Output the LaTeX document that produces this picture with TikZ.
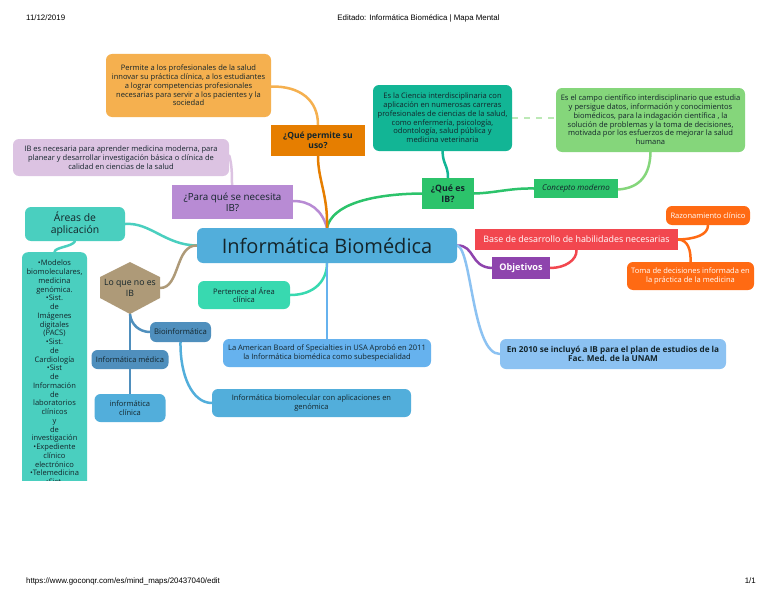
\documentclass[tikz,border=0pt]{standalone}
\usepackage{fontspec}
\setmainfont{Open Sans}
\newfontfamily\headfont{Liberation Sans}
\usetikzlibrary{backgrounds}
\definecolor{ink}{HTML}{14252B}
\definecolor{cMain}{HTML}{52AEDB}
\definecolor{cPermL}{HTML}{F5B04F}
\definecolor{cPerm}{HTML}{E67E00}
\definecolor{cLilaL}{HTML}{DCC3E2}
\definecolor{cLila}{HTML}{B88BD4}
\definecolor{cTeal}{HTML}{4ACFBF}
\definecolor{cHex}{HTML}{AE9A78}
\definecolor{cMint}{HTML}{38D9B0}
\definecolor{cSteel}{HTML}{4F8FBD}
\definecolor{cBlue}{HTML}{66B2EE}
\definecolor{cSea}{HTML}{12B595}
\definecolor{cGreen}{HTML}{2CC36B}
\definecolor{cLeaf}{HTML}{85D67B}
\definecolor{cRed}{HTML}{F2474F}
\definecolor{cPurple}{HTML}{8E44AD}
\definecolor{cOrange}{HTML}{FF6A13}
\definecolor{cSky}{HTML}{8CC2F2}
\tikzset{
  x=1pt,y=-1pt,
  base/.style={inner sep=0pt,align=center,text=ink,font=\fontsize{7.55}{8.75}\selectfont},
  card/.style={base,rounded corners=6pt},
  flat/.style={base},
  link/.style={line width=2.5pt,line cap=round},
  head/.style={inner sep=0pt,text=black,font=\headfont\fontsize{7.9}{9}\selectfont},
}
\newcommand{\boxat}[8]{%
  \node[#1,fill=#2,minimum width=#5pt,minimum height=#6pt,#7] (#8) at (#3,#4)}
\begin{document}
\begin{tikzpicture}
\useasboundingbox (0,0) rectangle (768,594);
% headers
\node[head,anchor=west] (hdate) at (26,18) {11/12/2019};
\node[head,anchor=center] (htitle) at (418.5,18) {Editado: Informática Biomédica | Mapa Mental};
\node[head,anchor=west] (furl) at (26,581) {https://www.goconqr.com/es/mind\_maps/20437040/edit};
\node[head,anchor=east] (fpage) at (756,581) {1/1};
% hexagon shape
\fill[cHex] (130,262) -- (160,277) -- (160,298) -- (130,314) -- (100,298) -- (100,277) -- cycle;
% nodes
\boxat{card}{cMain}{327}{245.5}{260}{35}{font=\fontsize{20}{24}\selectfont}{main} {Informática Biomédica};
\boxat{card}{cPermL}{188.5}{85.5}{165}{63}{}{perm} {Permite a los profesionales de la salud\\innovar su práctica clínica, a los estudiantes\\a lograr competencias profesionales\\necesarias para servir a los pacientes y la\\sociedad};
\boxat{flat}{cPerm}{318}{140.5}{94}{31}{font=\fontsize{8.5}{10.4}\selectfont\bfseries}{uso} {¿Qué permite su\\uso?};
\boxat{card}{cLilaL}{121}{157.5}{216}{37}{}{neceT} {IB es necesaria para aprender medicina moderna, para\\planear y desarrollar investigación básica o clínica de\\calidad en ciencias de la salud};
\boxat{flat}{cLila}{232.5}{202}{121}{34}{font=\fontsize{9.8}{11}\selectfont}{para} {¿Para qué se necesita\\IB?};
\boxat{card}{cTeal}{75}{224}{100}{34}{font=\fontsize{10.4}{12.4}\selectfont}{areas} {Áreas de\\aplicación};
\boxat{base}{cHex}{130}{288}{60}{30}{fill opacity=0,text opacity=1,font=\fontsize{8.7}{10.5}\selectfont}{hex} {Lo que no es\\IB};
\boxat{card}{cMint}{244}{295}{92}{28}{}{pert} {Pertenece al Área\\clínica};
\boxat{card}{cSteel}{180.5}{332}{61}{20}{font=\fontsize{7.7}{8.75}\selectfont}{bio} {Bioinformática};
\boxat{card}{cSteel}{130}{359.5}{77}{19}{}{imed} {Informática médica};
\boxat{card}{cMain}{130}{408}{71}{28}{}{icli} {informática\\clínica};
\boxat{card}{cBlue}{327}{353}{208}{28}{}{amer} {La American Board of Specialties in USA Aprobó en 2011\\la Informática biomédica como subespecialidad};
\boxat{card}{cMain}{311.5}{403}{199}{28}{}{bmol} {Informática biomolecular con aplicaciones en\\genómica};
\boxat{card}{cSea}{442.5}{118}{139}{66}{}{cien} {Es la Ciencia interdisciplinaria con\\aplicación en numerosas carreras\\profesionales de ciencias de la salud,\\como enfermería, psicología,\\odontología, salud pública y\\medicina veterinaria};
\boxat{flat}{cGreen}{448}{193.5}{52}{31}{font=\fontsize{8.8}{10.4}\selectfont\bfseries}{ques} {¿Qué es\\IB?};
\boxat{flat}{cGreen}{576}{188.5}{84}{19}{font=\fontsize{8}{8.75}\selectfont\itshape}{conc} {Concepto moderno};
\boxat{card}{cLeaf}{650.5}{120}{189}{64}{}{campo} {Es el campo científico interdisciplinario que estudia\\y persigue datos, información y conocimientos\\biomédicos, para la indagación científica , la\\solución de problemas y la toma de decisiones,\\motivada por los esfuerzos de mejorar la salud\\humana};
\boxat{flat}{cRed}{576.5}{239.5}{203}{21}{text=white,font=\fontsize{8.9}{10}\selectfont}{bas} {Base de desarrollo de habilidades necesarias};
\boxat{flat}{cPurple}{521}{268}{58}{22}{text=white,font=\fontsize{9.1}{10}\selectfont\bfseries}{obj} {Objetivos};
\boxat{card}{cOrange}{708}{215.5}{84}{19}{text=white}{raz} {Razonamiento clínico};
\boxat{card}{cOrange}{690.5}{276}{127}{28}{text=white}{toma} {Toma de decisiones informada en\\la práctica de la medicina};
\boxat{card}{cSky}{613}{354}{226}{30}{font=\fontsize{8.2}{9.4}\selectfont\bfseries}{unam} {En 2010 se incluyó a IB para el plan de estudios de la\\Fac. Med. de la UNAM};
% tall clipped card
\begin{scope}
\clip (0,252) rectangle (768,480);
\node[card,fill=cTeal,minimum width=65pt,minimum height=249pt,anchor=north] (tall) at (54.5,252) {•Modelos\\biomoleculares,\\medicina\\genómica.\\•Sist.\\de\\Imágenes\\digitales\\(PACS)\\•Sist.\\de\\Cardiología\\•Sist\\de\\Información\\de\\laboratorios\\clínicos\\y\\de\\investigación\\•Expediente\\clínico\\electrónico\\•Telemedicina\\•Sist.\\de};
\end{scope}
% connectors
\begin{scope}[on background layer]
\fill[white] (0,0) rectangle (768,594);
\draw[link,cGreen] (main.north) .. controls (332,205) and (370,194) .. (ques.west);
\draw[link,cPermL] (perm.east) ++(0,1) .. controls (300,86) and (318,100) .. (uso.north);
\draw[link,cLilaL] (neceT.east) ++(0,-2) .. controls (232,165) and (232,175) .. (para.north -| 232,185);
\draw[link,cLila] (para.east) ++(0,-1) .. controls (310,201) and (322,210) .. (main.north);
\draw[link,cPerm] (uso.south) .. controls (318,180) and (328,195) .. (main.north);
\draw[link,cSea] (cien.south) .. controls (443,165) and (448,165) .. (ques.north);
\draw[link,cGreen] (ques.east) .. controls (495,193) and (510,188) .. (conc.west);
\draw[link,cLeaf] (conc.east) ++(0,1) .. controls (640,188) and (650,175) .. (campo.south);
\draw[cLeaf!55,line width=1.2pt,dash pattern=on 6pt off 6pt] (cien.east) -- (cien.east -| campo.west);
\draw[link,cTeal] (areas.east) .. controls (150,222) and (165,245) .. (main.west);
\draw[link,cTeal] (areas.south) .. controls (72,247) and (55,247) .. (tall.north);
\draw[link,cHex] (hex.east) .. controls (180,288) and (175,245) .. (main.west);
\draw[link,cMint] (pert.east) .. controls (315,295) and (327,280) .. (main.south);
\draw[link,cBlue] (main.south) -- (amer.north);
\draw[link,cSteel] (hex.south) ++(0,11) .. controls (131,325) and (140,332) .. (bio.west);
\draw[link,cSteel] (hex.south) -- (imed.north);
\draw[link,cSteel] (imed.south) -- (icli.north);
\draw[link,cMain] (bio.south) .. controls (180,375) and (192,403) .. (bmol.west);
\draw[link,cPurple] (main.east) .. controls (475,245) and (470,267) .. (obj.west);
\draw[link,cRed] (obj.east) .. controls (565,268) and (577,260) .. (bas.south);
\draw[link,cOrange] (bas.east) .. controls (695,239) and (708,235) .. (raz.south);
\draw[link,cOrange] (bas.east) .. controls (688,240) and (691,250) .. (toma.north);
\draw[link,cSky] (main.east) .. controls (472,250) and (472,354) .. (unam.west);
\end{scope}
\end{tikzpicture}
\end{document}
